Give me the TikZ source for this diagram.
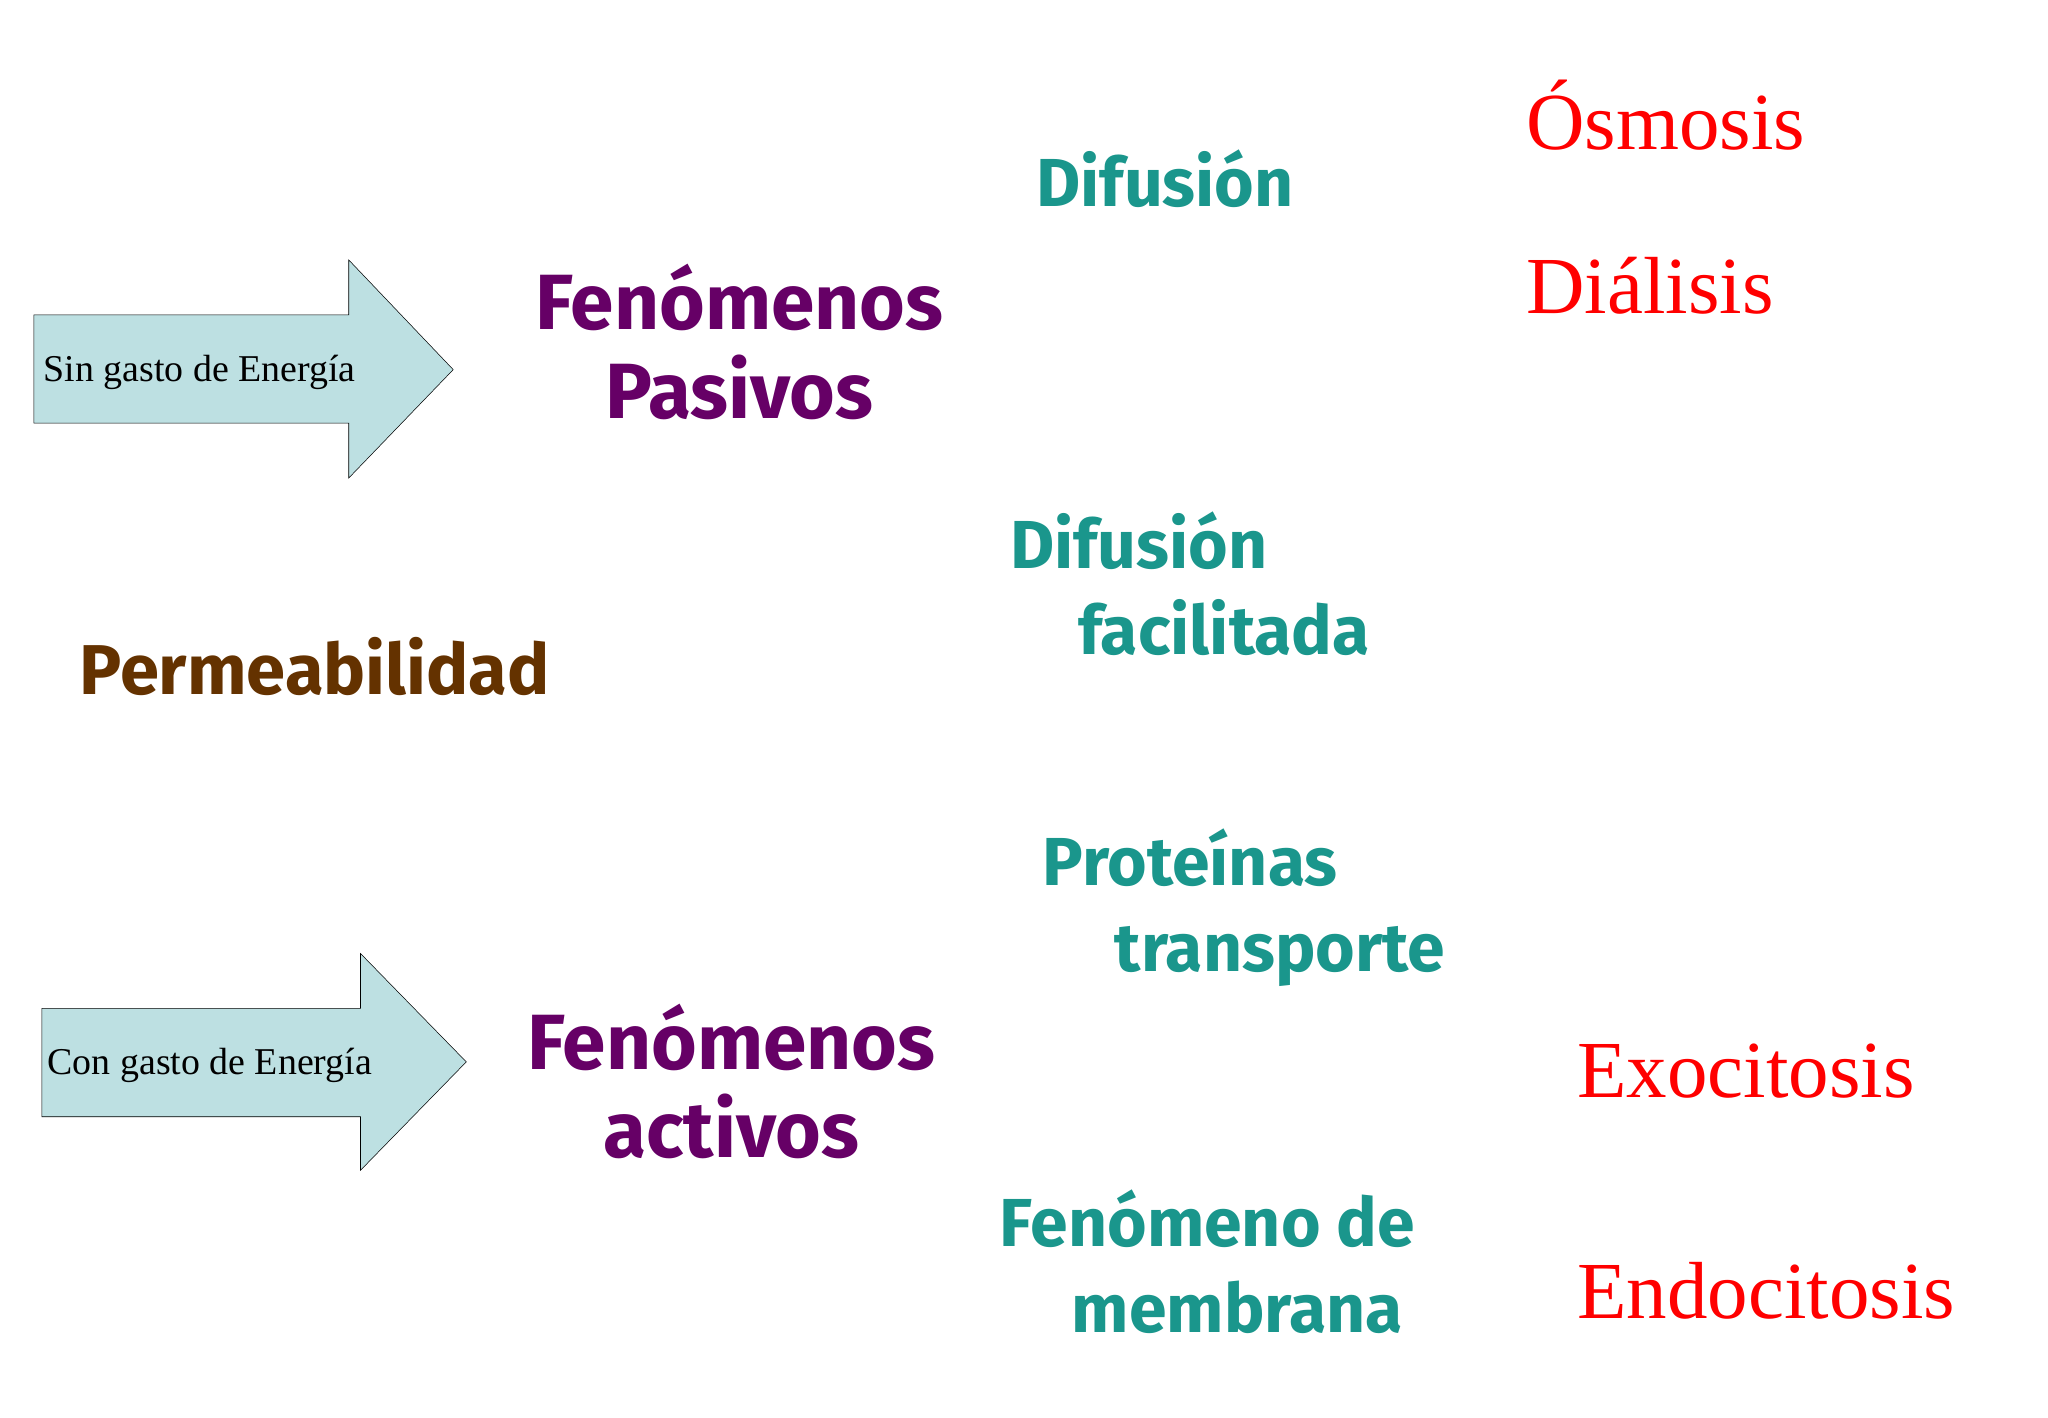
\documentclass[tikz,border=0pt]{standalone}
\usepackage{fontspec}
\setmainfont{Liberation Serif}
\newfontfamily\comic{Fira Sans}
\definecolor{passive}{RGB}{102,0,102}
\definecolor{teal2}{RGB}{26,150,140}
\definecolor{brownish}{RGB}{100,50,0}
\definecolor{arrowfill}{RGB}{189,224,226}
\begin{document}
\begin{tikzpicture}[x=1pt,y=-1pt,
  big/.style={font=\comic\bfseries\fontsize{60}{68}\selectfont, text=passive, align=center},
  sub/.style={font=\comic\bfseries\fontsize{52}{66}\selectfont, text=teal2, align=left},
  red/.style={font=\fontsize{62}{70}\selectfont, text=red, anchor=west},
  tag/.style={font=\fontsize{29}{32}\selectfont, anchor=west}]
  % frame of the page
  \useasboundingbox (0,0) rectangle (1568,1085);
  \fill[white] (0,0) rectangle (1568,1085);
  % the two block arrows
  \draw[fill=arrowfill] (26,241) -- (267,241) -- (267,199) -- (347,283) -- (267,366) -- (267,324) -- (26,324) -- cycle;
  \draw[fill=arrowfill] (32,772) -- (276,772) -- (276,730) -- (357,813) -- (276,896) -- (276,855) -- (32,855) -- cycle;
  \node[tag] (sin) at (30,285) {Sin gasto de Energía};
  \node[tag] (con) at (33,816) {Con gasto de Energía};
  % main groups
  \node[big] (pasivos) at (566,262) {Fenómenos\\Pasivos};
  \node[big] (activos) at (560,828) {Fenómenos\\activos};
  \node[font=\comic\bfseries\fontsize{54}{60}\selectfont, text=brownish] (perm) at (241,510) {Permeabilidad};
  % kinds
  \node[sub, anchor=west] (dif) at (790,137) {Difusión};
  \node[sub, anchor=west] (diffac) at (770,447) {Difusión\\\hspace*{52pt}facilitada};
  \node[sub, anchor=west] (prot) at (795,695) {Proteínas\\\hspace*{55pt}transporte};
  \node[sub, anchor=west] (memb) at (762,966) {Fenómeno de\\\hspace*{55pt}membrana};
  % examples
  \node[red] (osm) at (1165,88) {Ósmosis};
  \node[red] (dial) at (1165,219) {Diálisis};
  \node[red] (exo) at (1204,820) {Exocitosis};
  \node[red] (endo) at (1204,988) {Endocitosis};
\end{tikzpicture}
\end{document}
